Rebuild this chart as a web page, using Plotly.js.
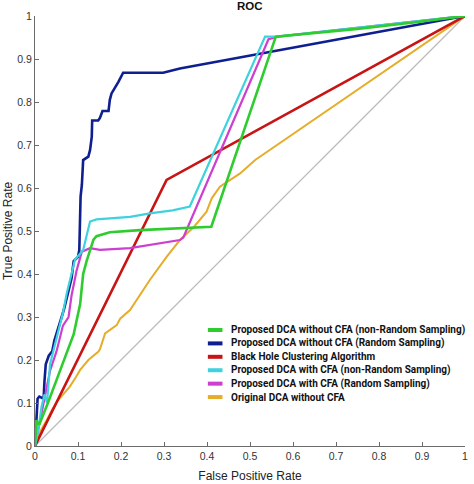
<!DOCTYPE html>
<html>
<head>
<meta charset="utf-8">
<script src="https://cdn.plot.ly/plotly-3.0.1.min.js"></script>
<style>
  html, body { margin: 0; padding: 0; background: #fff; }
  #chart { width: 474px; height: 484px; }
</style>
</head>
<body>
<div id="chart"></div>
<script>
// ROC curves: false positive rate (x) vs true positive rate (y)

const seriesNames = [
  'Proposed DCA without CFA (non-Random Sampling)',
  'Proposed DCA without CFA (Random Sampling)',
  'Black Hole Clustering Algorithm',
  'Proposed DCA with CFA (non-Random Sampling)',
  'Proposed DCA with CFA (Random Sampling)',
  'Original DCA without CFA'
];

// Proposed DCA without CFA (non-Random Sampling)
const greenFpr = [0, 0.003, 0.01, 0.03, 0.06, 0.09, 0.105, 0.112, 0.12, 0.128, 0.136, 0.143, 0.174, 0.244, 0.337, 0.41, 0.56, 0.62, 0.75, 0.88, 1];
const greenTpr = [0, 0.06, 0.05, 0.1, 0.18, 0.26, 0.33, 0.4, 0.43, 0.456, 0.48, 0.488, 0.497, 0.502, 0.506, 0.51, 0.952, 0.958, 0.97, 0.985, 1];

// Proposed DCA without CFA (Random Sampling)
const blueFpr = [0, 0.002, 0.004, 0.006, 0.01, 0.02, 0.022, 0.025, 0.032, 0.04, 0.045, 0.05, 0.056, 0.062, 0.068, 0.075, 0.08, 0.085, 0.09, 0.1, 0.103, 0.104, 0.106, 0.109, 0.112, 0.124, 0.128, 0.132, 0.133, 0.147, 0.151, 0.157, 0.171, 0.174, 0.178, 0.194, 0.205, 0.298, 0.337, 1];
const blueTpr = [0, 0.05, 0.1, 0.11, 0.115, 0.11, 0.15, 0.19, 0.21, 0.22, 0.245, 0.26, 0.28, 0.3, 0.32, 0.35, 0.37, 0.39, 0.43, 0.44, 0.455, 0.54, 0.58, 0.607, 0.665, 0.673, 0.688, 0.719, 0.757, 0.757, 0.763, 0.779, 0.779, 0.805, 0.82, 0.847, 0.868, 0.868, 0.878, 1];

// Black Hole Clustering Algorithm
const redFpr = [0, 0.306, 1];
const redTpr = [0, 0.619, 1];

// Proposed DCA with CFA (non-Random Sampling)
const cyanFpr = [0, 0.008, 0.015, 0.022, 0.028, 0.035, 0.045, 0.055, 0.065, 0.074, 0.085, 0.093, 0.112, 0.128, 0.143, 0.18, 0.221, 0.267, 0.32, 0.36, 0.535, 0.562, 1];
const cyanTpr = [0, 0.04, 0.09, 0.12, 0.1, 0.19, 0.23, 0.27, 0.31, 0.356, 0.4, 0.433, 0.456, 0.522, 0.527, 0.53, 0.533, 0.541, 0.548, 0.557, 0.952, 0.952, 1];

// Proposed DCA with CFA (Random Sampling)
const magentaFpr = [0, 0.01, 0.02, 0.035, 0.05, 0.065, 0.078, 0.085, 0.097, 0.109, 0.128, 0.151, 0.221, 0.291, 0.337, 0.345, 0.543, 0.565, 1];
const magentaTpr = [0, 0.05, 0.1, 0.175, 0.22, 0.28, 0.3, 0.35, 0.409, 0.452, 0.46, 0.456, 0.46, 0.471, 0.479, 0.485, 0.946, 0.952, 1];

// Original DCA without CFA
const orangeFpr = [0, 0.01, 0.027, 0.04, 0.054, 0.07, 0.081, 0.095, 0.105, 0.124, 0.147, 0.151, 0.163, 0.19, 0.198, 0.221, 0.244, 0.252, 0.267, 0.306, 0.337, 0.37, 0.399, 0.411, 0.43, 0.477, 0.512, 1];
const orangeTpr = [0, 0.03, 0.06, 0.085, 0.107, 0.125, 0.138, 0.16, 0.177, 0.2, 0.219, 0.225, 0.262, 0.281, 0.296, 0.316, 0.351, 0.363, 0.386, 0.44, 0.479, 0.51, 0.545, 0.576, 0.603, 0.634, 0.665, 1];

// Chance diagonal
const chanceFpr = [0, 1];
const chanceTpr = [0, 1];

const seriesX = [greenFpr, blueFpr, redFpr, cyanFpr, magentaFpr, orangeFpr];
const seriesY = [greenTpr, blueTpr, redTpr, cyanTpr, magentaTpr, orangeTpr];
const seriesColors = ['#2fcc2f', '#0f1f8f', '#c81414', '#3ed2de', '#cc3fd0', '#e6ad2a'];
const seriesWidths = [2.6, 2.6, 2.6, 2.2, 2.2, 2.0];
// Draw order: bottom to top
const drawOrder = [5, 2, 1, 4, 3, 0];

const traces = [{
  x: chanceFpr, y: chanceTpr, type: 'scatter', mode: 'lines',
  line: {color: '#bdbdbd', width: 1.3}, showlegend: false, hoverinfo: 'skip'
}];
drawOrder.forEach(i => {
  traces.push({
    x: seriesX[i], y: seriesY[i], type: 'scatter', mode: 'lines',
    name: seriesNames[i], showlegend: false,
    line: {color: seriesColors[i], width: seriesWidths[i]}
  });
});

// Compact legend block in the lower right of the plot area
const legendTop = 0.2698, legendStep = 0.0312;
const shapes = [], annotations = [];
seriesNames.forEach((name, i) => {
  const y = legendTop - i * legendStep;
  shapes.push({
    type: 'line', xref: 'paper', yref: 'paper',
    x0: 0.402, x1: 0.436, y0: y, y1: y,
    line: {color: seriesColors[i], width: 4}
  });
  annotations.push({
    xref: 'paper', yref: 'paper', x: 0.451, y: y,
    xanchor: 'left', yanchor: 'middle', showarrow: false,
    text: name,
    font: {family: 'Roboto, "Liberation Sans Narrow", sans-serif', size: 10, color: '#111', weight: 'bold'}
  });
});

const axisCommon = {
  range: [0, 1], dtick: 0.1, tick0: 0,
  showgrid: false, zeroline: false,
  showline: true, linecolor: '#6a6a6a', linewidth: 1,
  ticks: 'inside', ticklen: 4, tickcolor: '#6a6a6a',
  tickfont: {family: 'Arial, "Liberation Sans", sans-serif', size: 10.5, color: '#333'},
  automargin: false, fixedrange: true
};

const layout = {
  width: 474, height: 484,
  margin: {l: 35, r: 9, t: 16, b: 38},
  paper_bgcolor: '#fff', plot_bgcolor: '#fff',
  title: {
    text: '<b>ROC</b>', x: 0.527, xanchor: 'center', y: 0.988, yanchor: 'middle',
    font: {family: 'Arial, "Liberation Sans", sans-serif', size: 11.5, color: '#111'}
  },
  xaxis: Object.assign({}, axisCommon, {
    title: {text: 'False Positive Rate', standoff: 11,
            font: {family: 'Arial, "Liberation Sans", sans-serif', size: 12, color: '#222'}}
  }),
  yaxis: Object.assign({}, axisCommon, {
    title: {text: 'True Positive Rate', standoff: 2,
            font: {family: 'Arial, "Liberation Sans", sans-serif', size: 12, color: '#222'}}
  }),
  shapes: shapes,
  annotations: annotations
};

Plotly.newPlot('chart', traces, layout, {displayModeBar: false, staticPlot: true});
</script>
</body>
</html>
